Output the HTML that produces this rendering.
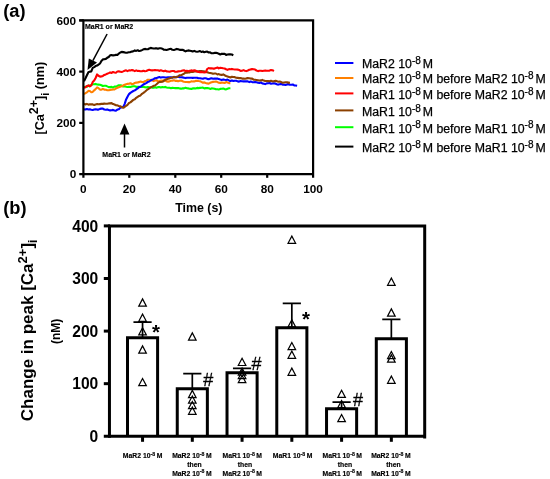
<!DOCTYPE html>
<html lang="en"><head><meta charset="utf-8"><title>Figure</title>
<style>html,body{margin:0;padding:0;background:#fff}body{width:550px;height:479px;overflow:hidden}</style></head>
<body>
<svg width="550" height="479" viewBox="0 0 550 479" style="display:block">
<rect width="550" height="479" fill="#fff"/>
<g id="chart-a">
<g fill="none" stroke-width="2.1" stroke-linejoin="round" stroke-linecap="butt">
<path d="M84.0,87.4 L85.5,86.7 L86.9,86.7 L88.4,85.9 L89.8,85.6 L91.3,85.0 L92.7,84.2 L94.2,84.3 L95.6,83.9 L97.1,84.5 L98.5,84.6 L100.0,84.7 L101.4,85.2 L102.9,86.0 L104.3,85.7 L105.8,85.8 L107.2,86.4 L108.7,87.1 L110.1,87.1 L111.6,86.9 L113.0,87.5 L114.5,86.5 L115.9,86.6 L117.4,85.9 L118.8,85.2 L120.3,85.2 L121.7,85.6 L123.2,86.5 L124.6,86.3 L126.1,86.7 L127.5,87.0 L129.0,86.8 L130.4,87.0 L131.9,86.5 L133.3,86.3 L134.8,86.3 L136.2,86.9 L137.7,86.9 L139.1,86.8 L140.5,87.0 L142.0,87.0 L143.4,86.8 L144.9,87.3 L146.3,87.4 L147.8,87.0 L149.2,87.2 L150.7,87.2 L152.1,87.6 L153.6,87.7 L155.0,87.2 L156.5,87.8 L157.9,87.1 L159.4,87.1 L160.8,87.5 L162.3,87.1 L163.7,87.3 L165.2,86.9 L166.6,87.4 L168.1,87.8 L169.5,87.8 L171.0,88.2 L172.4,87.8 L173.9,88.0 L175.3,88.1 L176.8,88.1 L178.2,88.0 L179.7,88.4 L181.1,88.7 L182.6,88.4 L184.0,88.4 L185.5,87.8 L186.9,88.2 L188.4,88.4 L189.8,88.8 L191.3,88.9 L192.7,88.4 L194.2,88.2 L195.6,88.5 L197.1,87.9 L198.5,88.1 L200.0,87.9 L201.4,87.8 L202.9,87.6 L204.3,88.4 L205.8,88.1 L207.2,88.1 L208.7,88.3 L210.1,88.9 L211.6,88.4 L213.0,88.5 L214.5,88.7 L215.9,89.2 L217.4,89.3 L218.8,89.5 L220.3,88.9 L221.7,88.7 L223.2,88.6 L224.6,89.1 L226.1,89.4 L227.5,88.7 L229.0,88.3 L230.4,88.2" stroke="#00ff00"/>
<path d="M84.0,94.1 L85.5,93.2 L86.9,92.3 L88.4,90.9 L89.8,91.0 L91.3,92.3 L92.7,91.9 L94.2,90.3 L95.6,89.2 L97.1,87.4 L98.5,88.2 L100.0,89.6 L101.4,89.7 L102.9,88.8 L104.3,89.6 L105.8,89.8 L107.2,90.1 L108.7,90.3 L110.1,89.9 L111.6,89.8 L113.0,89.4 L114.5,89.5 L115.9,88.5 L117.4,87.8 L118.8,87.2 L120.3,86.6 L121.7,86.3 L123.2,85.5 L124.6,84.7 L126.1,84.2 L127.5,83.9 L129.0,83.8 L130.4,83.2 L131.9,84.0 L133.3,83.9 L134.8,83.0 L136.2,82.6 L137.7,82.4 L139.1,82.1 L140.5,81.5 L142.0,82.0 L143.4,82.1 L144.9,81.2 L146.3,80.6 L147.8,79.8 L149.2,79.7 L150.7,80.1 L152.1,80.3 L153.6,81.1 L155.0,80.6 L156.5,80.2 L157.9,81.3 L159.4,81.2 L160.8,80.6 L162.3,80.9 L163.7,80.2 L165.2,80.6 L166.6,81.4 L168.1,81.6 L169.5,81.4 L171.0,80.8 L172.4,80.6 L173.9,80.3 L175.3,80.9 L176.8,80.9 L178.2,81.2 L179.7,80.8 L181.1,80.5 L182.6,81.2 L184.0,81.8 L185.5,82.0 L186.9,82.0 L188.4,82.1 L189.8,82.1 L191.3,81.4 L192.7,81.5 L194.2,81.4 L195.6,80.9 L197.1,80.7 L198.5,81.0 L200.0,81.2 L201.4,81.9 L202.9,82.7 L204.3,82.4 L205.8,83.0 L207.2,83.4 L208.7,83.6 L210.1,82.8 L211.6,82.2 L213.0,81.9 L214.5,81.7 L215.9,81.6 L217.4,82.1 L218.8,82.7 L220.3,82.9 L221.7,82.6 L223.2,82.7 L224.6,83.0 L226.1,82.1 L227.5,82.5 L229.0,83.1 L230.4,83.2" stroke="#ff8000"/>
<path d="M84.0,109.5 L85.5,109.4 L86.9,109.0 L88.4,109.5 L89.8,109.2 L91.3,109.7 L92.7,110.0 L94.2,109.5 L95.6,109.2 L97.1,109.6 L98.5,109.6 L100.0,108.9 L101.4,108.6 L102.9,108.6 L104.3,109.5 L105.8,109.8 L107.2,109.4 L108.7,109.9 L110.1,110.4 L111.6,110.2 L113.0,109.9 L114.5,110.5 L115.9,110.7 L117.4,109.6 L118.8,109.2 L120.3,107.8 L121.7,107.1 L123.2,106.9 L124.6,104.1 L126.1,99.4 L127.5,96.7 L129.0,94.1 L130.4,92.9 L131.9,91.9 L133.3,91.0 L134.8,90.4 L136.2,89.3 L137.7,88.4 L139.1,87.1 L140.5,86.8 L142.0,85.6 L143.4,84.5 L144.9,83.7 L146.3,83.1 L147.8,81.9 L149.2,81.5 L150.7,80.5 L152.1,79.7 L153.6,79.1 L155.0,78.2 L156.5,78.1 L157.9,77.5 L159.4,77.0 L160.8,77.6 L162.3,77.2 L163.7,77.2 L165.2,77.5 L166.6,77.5 L168.1,77.2 L169.5,77.3 L171.0,77.4 L172.4,77.6 L173.9,77.0 L175.3,77.2 L176.8,76.9 L178.2,76.8 L179.7,77.3 L181.1,77.3 L182.6,77.4 L184.0,77.7 L185.5,78.1 L186.9,77.7 L188.4,77.8 L189.8,77.7 L191.3,77.7 L192.7,77.9 L194.2,77.8 L195.6,77.8 L197.1,77.8 L198.5,78.3 L200.0,78.3 L201.4,78.5 L202.9,78.7 L204.3,78.2 L205.8,78.3 L207.2,78.9 L208.7,79.2 L210.1,78.6 L211.6,78.3 L213.0,78.7 L214.5,78.5 L215.9,78.6 L217.4,78.5 L218.8,79.1 L220.3,79.6 L221.7,80.0 L223.2,79.4 L224.6,79.8 L226.1,80.0 L227.5,79.6 L229.0,80.4 L230.4,80.9 L231.9,80.4 L233.3,81.0 L234.8,80.7 L236.2,80.8 L237.7,81.4 L239.1,81.6 L240.6,81.1 L242.0,81.2 L243.5,81.4 L244.9,81.4 L246.4,81.3 L247.8,81.4 L249.3,82.1 L250.7,81.6 L252.2,82.1 L253.6,82.3 L255.1,82.0 L256.5,82.2 L258.0,82.7 L259.4,82.9 L260.9,82.5 L262.3,83.4 L263.8,83.7 L265.2,84.1 L266.7,83.4 L268.1,83.3 L269.6,83.0 L271.0,83.7 L272.5,83.5 L273.9,83.3 L275.4,83.6 L276.8,84.3 L278.3,84.6 L279.7,84.2 L281.2,83.9 L282.6,84.6 L284.1,84.7 L285.5,84.9 L287.0,84.4 L288.4,84.1 L289.9,84.8 L291.3,84.8 L292.8,84.5 L294.2,85.4 L295.7,85.5 L297.1,85.8" stroke="#0000ff"/>
<path d="M84.0,103.8 L85.5,104.5 L86.9,103.9 L88.4,104.6 L89.8,104.4 L91.3,104.2 L92.7,104.4 L94.2,104.9 L95.6,104.4 L97.1,104.0 L98.5,104.3 L100.0,104.1 L101.4,103.9 L102.9,103.9 L104.3,103.6 L105.8,103.7 L107.2,103.8 L108.7,103.4 L110.1,103.4 L111.6,103.1 L113.0,104.1 L114.5,104.5 L115.9,105.2 L117.4,105.4 L118.8,106.0 L120.3,106.2 L121.7,107.3 L123.2,107.8 L124.6,107.0 L126.1,105.8 L127.5,104.8 L129.0,103.0 L130.4,102.4 L131.9,101.1 L133.3,99.9 L134.8,99.2 L136.2,97.8 L137.7,96.8 L139.1,95.9 L140.5,95.4 L142.0,93.8 L143.4,92.9 L144.9,91.7 L146.3,90.5 L147.8,89.3 L149.2,88.4 L150.7,87.4 L152.1,86.7 L153.6,85.8 L155.0,85.5 L156.5,84.3 L157.9,83.0 L159.4,82.0 L160.8,82.0 L162.3,81.8 L163.7,81.0 L165.2,79.9 L166.6,79.2 L168.1,78.7 L169.5,78.4 L171.0,77.7 L172.4,77.5 L173.9,76.9 L175.3,77.2 L176.8,77.1 L178.2,76.3 L179.7,75.2 L181.1,75.3 L182.6,74.4 L184.0,73.7 L185.5,72.7 L186.9,72.6 L188.4,72.5 L189.8,72.4 L191.3,71.8 L192.7,71.9 L194.2,71.4 L195.6,71.4 L197.1,71.2 L198.5,71.4 L200.0,71.1 L201.4,71.0 L202.9,71.3 L204.3,71.4 L205.8,71.9 L207.2,72.2 L208.7,72.7 L210.1,73.0 L211.6,73.3 L213.0,73.8 L214.5,73.5 L215.9,73.5 L217.4,74.5 L218.8,74.1 L220.3,74.7 L221.7,74.9 L223.2,74.4 L224.6,75.2 L226.1,76.0 L227.5,76.4 L229.0,76.9 L230.4,77.5 L231.9,76.8 L233.3,77.0 L234.8,77.1 L236.2,77.7 L237.7,77.9 L239.1,78.1 L240.6,78.1 L242.0,78.6 L243.5,78.6 L244.9,78.8 L246.4,78.4 L247.8,78.1 L249.3,78.2 L250.7,78.6 L252.2,78.6 L253.6,79.6 L255.1,79.8 L256.5,80.0 L258.0,80.2 L259.4,80.5 L260.9,80.4 L262.3,79.9 L263.8,80.6 L265.2,81.0 L266.7,81.0 L268.1,81.1 L269.6,81.3 L271.0,80.8 L272.5,81.4 L273.9,81.2 L275.4,80.9 L276.8,81.1 L278.3,81.8 L279.7,81.6 L281.2,82.1 L282.6,82.8 L284.1,82.5 L285.5,82.3 L287.0,82.3 L288.4,82.6 L289.9,82.9" stroke="#8b4000"/>
<path d="M84.0,87.8 L85.5,87.3 L86.9,85.9 L88.4,85.4 L89.8,86.4 L91.3,85.4 L92.7,82.1 L94.2,80.6 L95.6,78.0 L97.1,74.4 L98.5,75.8 L100.0,76.6 L101.4,76.4 L102.9,75.9 L104.3,74.9 L105.8,74.4 L107.2,73.7 L108.7,73.1 L110.1,72.4 L111.6,72.9 L113.0,72.0 L114.5,72.5 L115.9,72.7 L117.4,71.5 L118.8,71.4 L120.3,71.7 L121.7,72.0 L123.2,71.4 L124.6,70.8 L126.1,70.3 L127.5,71.1 L129.0,70.4 L130.4,70.5 L131.9,70.1 L133.3,70.4 L134.8,71.1 L136.2,70.4 L137.7,71.0 L139.1,70.9 L140.5,71.3 L142.0,71.3 L143.4,70.7 L144.9,71.3 L146.3,71.0 L147.8,70.3 L149.2,69.8 L150.7,70.3 L152.1,70.4 L153.6,70.3 L155.0,70.0 L156.5,70.2 L157.9,70.2 L159.4,70.9 L160.8,70.2 L162.3,70.8 L163.7,71.3 L165.2,70.6 L166.6,71.4 L168.1,71.5 L169.5,71.8 L171.0,71.2 L172.4,71.0 L173.9,71.0 L175.3,71.8 L176.8,71.7 L178.2,71.4 L179.7,71.3 L181.1,71.0 L182.6,70.5 L184.0,70.3 L185.5,71.1 L186.9,70.7 L188.4,71.4 L189.8,70.8 L191.3,70.4 L192.7,70.7 L194.2,70.4 L195.6,70.6 L197.1,71.5 L198.5,71.9 L200.0,72.1 L201.4,71.9 L202.9,72.3 L204.3,72.5 L205.8,72.2 L207.2,69.0 L208.7,68.0 L210.1,68.4 L211.6,68.2 L213.0,68.6 L214.5,68.6 L215.9,68.1 L217.4,67.5 L218.8,68.4 L220.3,67.8 L221.7,68.0 L223.2,68.3 L224.6,68.5 L226.1,69.3 L227.5,69.9 L229.0,69.1 L230.4,69.3 L231.9,68.9 L233.3,69.3 L234.8,69.5 L236.2,69.5 L237.7,69.6 L239.1,70.0 L240.6,70.9 L242.0,70.7 L243.5,70.1 L244.9,70.7 L246.4,71.1 L247.8,70.5 L249.3,69.8 L250.7,69.4 L252.2,69.1 L253.6,69.2 L255.1,69.6 L256.5,70.5 L258.0,71.1 L259.4,70.8 L260.9,70.7 L262.3,71.0 L263.8,70.7 L265.2,70.6 L266.7,70.8 L268.1,70.7 L269.6,70.6 L271.0,70.1 L272.5,70.2 L273.9,71.1" stroke="#ff0000"/>
<path d="M84.0,81.2 L85.5,78.3 L86.9,75.3 L88.4,72.2 L89.8,71.6 L91.3,71.4 L92.7,67.9 L94.2,67.1 L95.6,66.1 L97.1,65.6 L98.5,64.6 L100.0,63.5 L101.4,61.0 L102.9,59.4 L104.3,59.2 L105.8,58.9 L107.2,57.8 L108.7,57.0 L110.1,55.3 L111.6,55.0 L113.0,55.4 L114.5,55.2 L115.9,54.9 L117.4,54.9 L118.8,53.6 L120.3,52.5 L121.7,51.9 L123.2,52.1 L124.6,52.4 L126.1,52.8 L127.5,52.6 L129.0,52.2 L130.4,52.1 L131.9,51.6 L133.3,51.3 L134.8,50.4 L136.2,50.9 L137.7,50.3 L139.1,51.0 L140.5,50.8 L142.0,50.1 L143.4,49.3 L144.9,48.9 L146.3,49.2 L147.8,49.3 L149.2,48.5 L150.7,47.9 L152.1,48.2 L153.6,48.5 L155.0,48.4 L156.5,48.2 L157.9,48.7 L159.4,48.2 L160.8,48.3 L162.3,48.7 L163.7,49.7 L165.2,49.7 L166.6,50.0 L168.1,49.6 L169.5,49.0 L171.0,48.8 L172.4,49.8 L173.9,50.0 L175.3,49.5 L176.8,48.9 L178.2,49.3 L179.7,49.9 L181.1,49.9 L182.6,49.8 L184.0,50.5 L185.5,51.4 L186.9,50.8 L188.4,50.4 L189.8,50.7 L191.3,51.0 L192.7,51.5 L194.2,50.9 L195.6,51.5 L197.1,51.7 L198.5,51.5 L200.0,51.0 L201.4,52.0 L202.9,51.5 L204.3,52.2 L205.8,51.8 L207.2,51.6 L208.7,52.5 L210.1,52.3 L211.6,53.3 L213.0,53.3 L214.5,52.9 L215.9,52.8 L217.4,53.1 L218.8,53.7 L220.3,54.5 L221.7,53.8 L223.2,53.9 L224.6,53.7 L226.1,54.9 L227.5,54.5 L229.0,54.4 L230.4,54.3 L231.9,54.5 L233.3,55.3" stroke="#000"/>
</g>
<g stroke="#000" stroke-width="2.2" fill="none" stroke-linecap="butt">
<path d="M83.4,177.8 V20.4 H313.1 V177.8"/>
<path d="M79.2,174.1 H313.1"/>
<path d="M79.2,122.9 H83"/>
<path d="M79.2,71.6 H83"/>
<path d="M79.2,20.4 H83"/>
<path d="M79.2,20.4 H84"/>
<path d="M129.3,174.1 V177.8"/>
<path d="M175.3,174.1 V177.8"/>
<path d="M221.2,174.1 V177.8"/>
<path d="M267.2,174.1 V177.8"/>
</g>
<g font-family="'Liberation Sans',Arial,sans-serif" font-weight="bold" fill="#000">
<g font-size="11.8" text-anchor="end">
<text x="76.2" y="178.3">0</text>
<text x="76.2" y="127.1">200</text>
<text x="76.2" y="75.8">400</text>
<text x="76.2" y="24.6">600</text>
</g>
<g font-size="11.8" text-anchor="middle">
<text x="83.4" y="192.7">0</text>
<text x="129.3" y="192.7">20</text>
<text x="175.3" y="192.7">40</text>
<text x="221.2" y="192.7">60</text>
<text x="267.2" y="192.7">80</text>
<text x="313.1" y="192.7">100</text>
</g>
<text x="198.8" y="212" font-size="12.4" text-anchor="middle">Time (s)</text>
<text x="3.2" y="16.8" font-size="18.3">(a)</text>
<text x="3.2" y="213.8" font-size="18.3">(b)</text>
<text transform="translate(43.8,98.2) rotate(-90)" font-size="12.6" text-anchor="middle">[Ca<tspan dy="-6.2" font-size="12.6">2+</tspan><tspan dy="6.2">]</tspan><tspan dy="5" font-size="11">i</tspan><tspan dy="-5"> (nm)</tspan></text>
<text x="85" y="29.2" font-size="7" stroke="#000" stroke-width="0.15">MaR1 or MaR2</text>
<text x="102.3" y="156.9" font-size="7" stroke="#000" stroke-width="0.15">MaR1 or MaR2</text>
</g>
<g stroke="#000" stroke-width="1.5" fill="#000">
<path d="M107.1,34 L92.9,60.6" fill="none"/>
<path d="M87.5,70.1 L88.8,58.6 L97,62.6 Z" stroke="none"/>
<path d="M124.5,147.5 V134" fill="none"/>
<path d="M124.5,123.6 L119.7,134.5 L129.4,134.5 Z" stroke="none"/>
</g>
</g>
<g id="legend">
<g stroke-width="2" fill="none">
<path d="M335,63.0 H353.4" stroke="#0000ff"/>
<path d="M335,78.0 H353.4" stroke="#ff8000"/>
<path d="M335,93.4 H353.4" stroke="#ff0000"/>
<path d="M335,110.4 H353.4" stroke="#8b4000"/>
<path d="M335,127.2 H353.4" stroke="#00ff00"/>
<path d="M335,146.6 H353.4" stroke="#000"/>
</g>
<g font-family="'Liberation Sans',Arial,sans-serif" font-size="12.3" fill="#000" stroke="#000" stroke-width="0.25">
<text x="362" y="68.4">MaR2 10<tspan dy="-4.4" font-size="10.0">-8</tspan><tspan dy="4.4" font-size="7"> </tspan>M</text>
<text x="362" y="83.4">MaR2 10<tspan dy="-4.4" font-size="10.0">-8</tspan><tspan dy="4.4" font-size="7"> </tspan>M before MaR2 10<tspan dy="-4.4" font-size="10.0">-8</tspan><tspan dy="4.4" font-size="7"> </tspan>M</text>
<text x="362" y="99.0">MaR1 10<tspan dy="-4.4" font-size="10.0">-8</tspan><tspan dy="4.4" font-size="7"> </tspan>M before MaR2 10<tspan dy="-4.4" font-size="10.0">-8</tspan><tspan dy="4.4" font-size="7"> </tspan>M</text>
<text x="362" y="116.0">MaR1 10<tspan dy="-4.4" font-size="10.0">-8</tspan><tspan dy="4.4" font-size="7"> </tspan>M</text>
<text x="362" y="132.6">MaR1 10<tspan dy="-4.4" font-size="10.0">-8</tspan><tspan dy="4.4" font-size="7"> </tspan>M before MaR1 10<tspan dy="-4.4" font-size="10.0">-8</tspan><tspan dy="4.4" font-size="7"> </tspan>M</text>
<text x="362" y="152.0">MaR2 10<tspan dy="-4.4" font-size="10.0">-8</tspan><tspan dy="4.4" font-size="7"> </tspan>M before MaR1 10<tspan dy="-4.4" font-size="10.0">-8</tspan><tspan dy="4.4" font-size="7"> </tspan>M</text>
</g>
</g>
<g id="chart-b">
<g stroke="#000" stroke-width="1.7" fill="none">
<path d="M142.55,337.65 V322.20 M133.45,322.20 H151.65"/>
<path d="M192.31,388.65 V373.70 M183.21,373.70 H201.41"/>
<path d="M242.07,372.70 V368.30 M232.97,368.30 H251.17"/>
<path d="M291.83,327.65 V303.30 M282.73,303.30 H300.93"/>
<path d="M341.59,408.65 V402.10 M332.49,402.10 H350.69"/>
<path d="M391.35,338.65 V319.30 M382.25,319.30 H400.45"/>
</g>
<g stroke="#000" stroke-width="3" fill="none">
<path d="M127.50,436.25 V337.65 H157.60 V436.25"/>
<path d="M177.26,436.25 V388.65 H207.36 V436.25"/>
<path d="M227.02,436.25 V372.70 H257.12 V436.25"/>
<path d="M276.78,436.25 V327.65 H306.88 V436.25"/>
<path d="M326.54,436.25 V408.65 H356.64 V436.25"/>
<path d="M376.30,436.25 V338.65 H406.40 V436.25"/>
</g>
<g stroke="#000" stroke-width="1.2" fill="none" stroke-linejoin="miter">
<path d="M142.55,298.90 L146.35,306.10 H138.75 Z"/>
<path d="M142.55,314.10 L146.35,321.30 H138.75 Z"/>
<path d="M142.55,327.70 L146.35,334.90 H138.75 Z"/>
<path d="M142.55,345.90 L146.35,353.10 H138.75 Z"/>
<path d="M142.55,378.50 L146.35,385.70 H138.75 Z"/>
<path d="M192.31,332.90 L196.11,340.10 H188.51 Z"/>
<path d="M192.31,390.40 L196.11,397.60 H188.51 Z"/>
<path d="M192.31,396.00 L196.11,403.20 H188.51 Z"/>
<path d="M192.31,401.50 L196.11,408.70 H188.51 Z"/>
<path d="M192.31,407.10 L196.11,414.30 H188.51 Z"/>
<path d="M242.07,358.30 L245.87,365.50 H238.27 Z"/>
<path d="M242.07,368.00 L245.87,375.20 H238.27 Z"/>
<path d="M242.07,371.50 L245.87,378.70 H238.27 Z"/>
<path d="M242.07,375.50 L245.87,382.70 H238.27 Z"/>
<path d="M291.83,236.10 L295.63,243.30 H288.03 Z"/>
<path d="M291.83,319.70 L295.63,326.90 H288.03 Z"/>
<path d="M291.83,342.50 L295.63,349.70 H288.03 Z"/>
<path d="M291.83,351.10 L295.63,358.30 H288.03 Z"/>
<path d="M291.83,368.10 L295.63,375.30 H288.03 Z"/>
<path d="M341.59,390.20 L345.39,397.40 H337.79 Z"/>
<path d="M341.59,400.50 L345.39,407.70 H337.79 Z"/>
<path d="M341.59,414.50 L345.39,421.70 H337.79 Z"/>
<path d="M391.35,278.10 L395.15,285.30 H387.55 Z"/>
<path d="M391.35,308.90 L395.15,316.10 H387.55 Z"/>
<path d="M391.35,351.50 L395.15,358.70 H387.55 Z"/>
<path d="M391.35,354.90 L395.15,362.10 H387.55 Z"/>
<path d="M391.35,376.10 L395.15,383.30 H387.55 Z"/>
</g>
<g stroke="#000" stroke-width="3" fill="none">
<path d="M109.45,437.75 V225.9 H424.7 V438.6"/>
<path d="M103.8,436.25 H424.7"/>
<path d="M103.8,383.67 H109"/>
<path d="M103.8,331.09 H109"/>
<path d="M103.8,278.51 H109"/>
<path d="M103.8,225.9 H110"/>
<path d="M142.55,436.25 V441.8"/>
<path d="M192.31,436.25 V441.8"/>
<path d="M242.07,436.25 V441.8"/>
<path d="M291.83,436.25 V441.8"/>
<path d="M341.59,436.25 V441.8"/>
<path d="M391.35,436.25 V441.8"/>
</g>
<g font-family="'Liberation Sans',Arial,sans-serif" fill="#000">
<g font-size="15.6" font-weight="bold" text-anchor="end">
<text x="98.3" y="441.9">0</text>
<text x="98.3" y="389.3">100</text>
<text x="98.3" y="336.7">200</text>
<text x="98.3" y="284.1">300</text>
<text x="98.3" y="231.5">400</text>
</g>
<text transform="translate(33.1,330.4) rotate(-90)" font-size="17" font-weight="bold" text-anchor="middle">Change in peak [Ca<tspan dy="-6.4" font-size="13">2+</tspan><tspan dy="6.4">]</tspan><tspan dy="3.4" font-size="12">i</tspan></text>
<text transform="translate(60,331.3) rotate(-90)" font-size="12" font-weight="bold" text-anchor="middle">(nM)</text>
<text x="156.0" y="339.3" font-size="20.5" font-weight="bold" text-anchor="middle">*</text>
<text x="305.9" y="325.8" font-size="20.5" font-weight="bold" text-anchor="middle">*</text>
<text x="208.2" y="385.6" font-size="18" text-anchor="middle" stroke="#000" stroke-width="0.3">#</text>
<text x="256.5" y="369.6" font-size="18" text-anchor="middle" stroke="#000" stroke-width="0.3">#</text>
<text x="358.1" y="405.5" font-size="18" text-anchor="middle" stroke="#000" stroke-width="0.3">#</text>
<g font-size="6.8" font-weight="bold" text-anchor="middle" stroke="#000" stroke-width="0.15">
<text x="142.6" y="458.3">MaR2 10<tspan dy="-2.6" font-size="5.2">-8</tspan><tspan dy="2.6" font-size="5.6"> </tspan>M</text>
<text x="191.9" y="458.3">MaR2 10<tspan dy="-2.6" font-size="5.2">-8</tspan><tspan dy="2.6" font-size="5.6"> </tspan>M</text>
<text x="194.5" y="466.8">then</text>
<text x="191.9" y="475.8">MaR2 10<tspan dy="-2.6" font-size="5.2">-8</tspan><tspan dy="2.6" font-size="5.6"> </tspan>M</text>
<text x="242.3" y="458.3">MaR1 10<tspan dy="-2.6" font-size="5.2">-8</tspan><tspan dy="2.6" font-size="5.6"> </tspan>M</text>
<text x="244.9" y="466.8">then</text>
<text x="242.3" y="475.8">MaR2 10<tspan dy="-2.6" font-size="5.2">-8</tspan><tspan dy="2.6" font-size="5.6"> </tspan>M</text>
<text x="292.6" y="458.3">MaR1 10<tspan dy="-2.6" font-size="5.2">-8</tspan><tspan dy="2.6" font-size="5.6"> </tspan>M</text>
<text x="342.3" y="458.3">MaR1 10<tspan dy="-2.6" font-size="5.2">-8</tspan><tspan dy="2.6" font-size="5.6"> </tspan>M</text>
<text x="344.9" y="466.8">then</text>
<text x="342.3" y="475.8">MaR1 10<tspan dy="-2.6" font-size="5.2">-8</tspan><tspan dy="2.6" font-size="5.6"> </tspan>M</text>
<text x="390.9" y="458.3">MaR2 10<tspan dy="-2.6" font-size="5.2">-8</tspan><tspan dy="2.6" font-size="5.6"> </tspan>M</text>
<text x="393.5" y="466.8">then</text>
<text x="390.9" y="475.8">MaR1 10<tspan dy="-2.6" font-size="5.2">-8</tspan><tspan dy="2.6" font-size="5.6"> </tspan>M</text>
</g>
</g>
</g>
</svg>
</body></html>
